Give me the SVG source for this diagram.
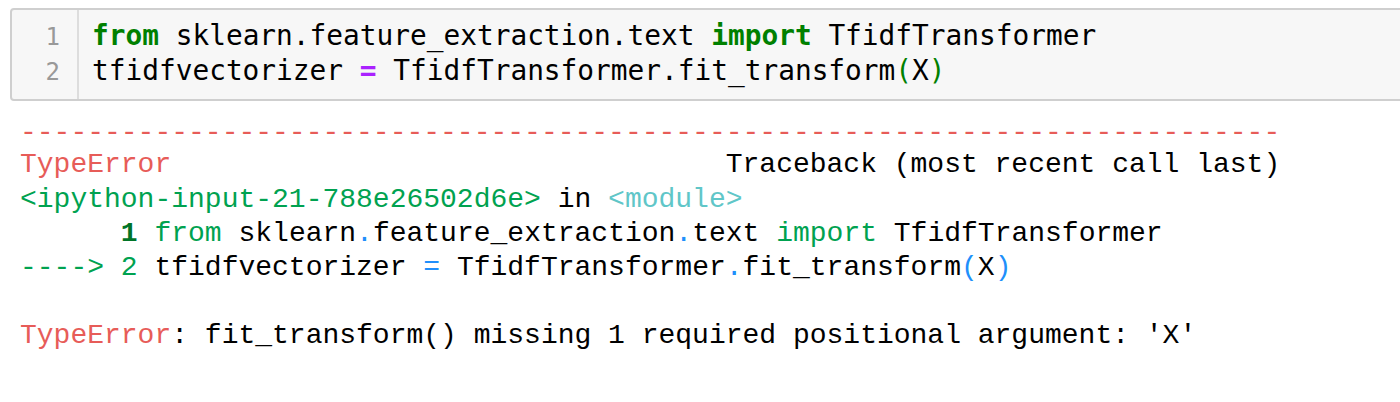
<svg xmlns="http://www.w3.org/2000/svg" width="1400" height="402" viewBox="0 0 1400 402">
<style>
.c{font-family:"DejaVu Sans Mono",monospace;font-size:27.8px;fill:#000}
.o{font-family:"Liberation Mono",monospace;font-size:28px;fill:#000}
.k{fill:#008000;font-weight:bold}
.p{fill:#AA22FF;font-weight:bold}
.r{fill:#E75C58}
.g{fill:#00A250}
.cy{fill:#60C6C8}
.dg{fill:#007427;font-weight:bold}
.b{fill:#208FFB}
.n{font-family:"DejaVu Sans Mono",monospace;font-size:24px;fill:#999}
</style>
<rect width="1400" height="402" fill="#fff"/>
<rect x="11" y="9" width="1400" height="91" rx="3" fill="#f7f7f7" stroke="#cfcfcf" stroke-width="2"/>
<line x1="78" y1="10" x2="78" y2="99" stroke="#dddddd" stroke-width="2"/>
<text class="n" x="60" y="45" text-anchor="end">1</text>
<text class="n" x="60" y="80" text-anchor="end">2</text>
<text class="c" x="92" y="45" xml:space="preserve"><tspan class="k">from</tspan> sklearn.feature_extraction.text <tspan class="k">import</tspan> TfidfTransformer</text>
<text class="c" x="92" y="80" xml:space="preserve">tfidfvectorizer <tspan class="p">=</tspan> TfidfTransformer.fit_transform<tspan fill="#008000">(</tspan>X<tspan fill="#008000">)</tspan></text>
<text class="o r" x="20" y="140">---------------------------------------------------------------------------</text>
<text class="o" x="20" y="172" xml:space="preserve"><tspan class="r">TypeError</tspan>                                 Traceback (most recent call last)</text>
<text class="o" x="20" y="207" xml:space="preserve"><tspan class="g">&lt;ipython-input-21-788e26502d6e&gt;</tspan> in <tspan class="cy">&lt;module&gt;</tspan></text>
<text class="o" x="20" y="241" xml:space="preserve">      <tspan class="dg">1</tspan> <tspan class="g">from</tspan> sklearn<tspan class="b">.</tspan>feature_extraction<tspan class="b">.</tspan>text <tspan class="g">import</tspan> TfidfTransformer</text>
<text class="o" x="20" y="275" xml:space="preserve"><tspan class="g">----&gt; 2</tspan> tfidfvectorizer <tspan class="b">=</tspan> TfidfTransformer<tspan class="b">.</tspan>fit_transform<tspan class="b">(</tspan>X<tspan class="b">)</tspan></text>
<text class="o" x="20" y="343" xml:space="preserve"><tspan class="r">TypeError</tspan>: fit_transform() missing 1 required positional argument: 'X'</text>
</svg>
